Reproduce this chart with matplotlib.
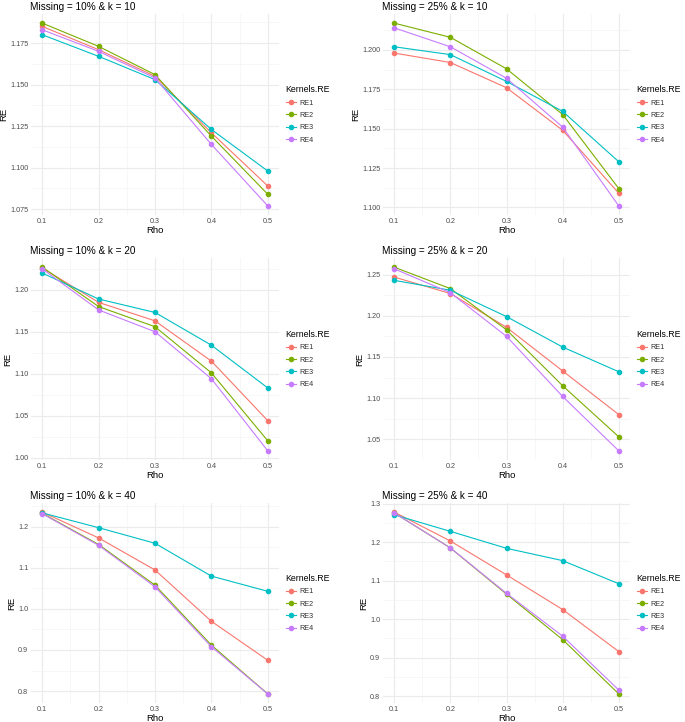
import matplotlib
matplotlib.use("Agg")
import matplotlib.pyplot as plt
import numpy as np
from matplotlib.ticker import MultipleLocator, FormatStrFormatter

plt.rcParams['font.family'] = ['Liberation Sans', 'DejaVu Sans']

rho = [0.1, 0.2, 0.3, 0.4, 0.5]
kernels = ["RE1", "RE2", "RE3", "RE4"]
colors = ["#F8766D", "#7CAE00", "#00BFC4", "#C77CFF"]

# Missing = 10% & k = 10
m10_k10 = [
    [1.185, 1.171, 1.155, 1.121, 1.089],
    [1.187, 1.173, 1.156, 1.119, 1.084],
    [1.180, 1.167, 1.153, 1.123, 1.098],
    [1.183, 1.170, 1.154, 1.114, 1.077],
]
# Missing = 25% & k = 10
m25_k10 = [
    [1.198, 1.192, 1.176, 1.149, 1.109],
    [1.217, 1.208, 1.188, 1.159, 1.112],
    [1.202, 1.197, 1.180, 1.161, 1.129],
    [1.214, 1.202, 1.182, 1.151, 1.101],
]
# Missing = 10% & k = 20
m10_k20 = [
    [1.226, 1.185, 1.163, 1.115, 1.044],
    [1.227, 1.180, 1.156, 1.101, 1.020],
    [1.220, 1.189, 1.173, 1.134, 1.083],
    [1.225, 1.176, 1.150, 1.094, 1.008],
]
# Missing = 25% & k = 20
m25_k20 = [
    [1.247, 1.227, 1.186, 1.133, 1.080],
    [1.259, 1.233, 1.183, 1.115, 1.053],
    [1.243, 1.231, 1.199, 1.162, 1.132],
    [1.257, 1.228, 1.175, 1.102, 1.036],
]
# Missing = 10% & k = 40
m10_k40 = [
    [1.236, 1.173, 1.095, 0.970, 0.875],
    [1.233, 1.157, 1.058, 0.912, 0.793],
    [1.234, 1.198, 1.160, 1.080, 1.043],
    [1.232, 1.155, 1.054, 0.908, 0.793],
]
# Missing = 25% & k = 40
m25_k40 = [
    [1.278, 1.203, 1.115, 1.025, 0.916],
    [1.276, 1.185, 1.065, 0.947, 0.806],
    [1.271, 1.228, 1.184, 1.152, 1.092],
    [1.276, 1.185, 1.067, 0.956, 0.816],
]

titles = ["Missing = 10% & k = 10", "Missing = 25% & k = 10",
          "Missing = 10% & k = 20", "Missing = 25% & k = 20",
          "Missing = 10% & k = 40", "Missing = 25% & k = 40"]
panels = [m10_k10, m25_k10, m10_k20, m25_k20, m10_k40, m25_k40]
ysteps = [0.025, 0.025, 0.05, 0.05, 0.1, 0.1]
yfmt = ["%.3f", "%.3f", "%.2f", "%.2f", "%.1f", "%.1f"]

W, H = 685, 722
fig = plt.figure(figsize=(W / 100, H / 100), dpi=100)

cols = [(31, 279), (383, 630)]
rows = [(14, 215), (258, 460), (503, 703)]

for i, (data, title) in enumerate(zip(panels, titles)):
    x0, x1 = cols[i % 2]
    y0, y1 = rows[i // 2]
    ax = fig.add_axes([x0 / W, 1 - y1 / H, (x1 - x0) / W, (y1 - y0) / H])
    for vals, name, c in zip(data, kernels, colors):
        ax.plot(rho, vals, color=c, lw=0.8, marker="o", ms=3.0, label=name)
    ax.margins(x=0.05, y=0.05)
    step = ysteps[i]
    ax.xaxis.set_major_locator(MultipleLocator(0.1))
    ax.xaxis.set_minor_locator(MultipleLocator(0.05))
    ax.yaxis.set_major_locator(MultipleLocator(step))
    ax.yaxis.set_minor_locator(MultipleLocator(step / 2))
    ax.xaxis.set_major_formatter(FormatStrFormatter("%.1f"))
    ax.yaxis.set_major_formatter(FormatStrFormatter(yfmt[i]))
    ax.grid(which="major", color="#EBEBEB", lw=0.8)
    ax.grid(which="minor", color="#F4F4F4", lw=0.5)
    ax.set_axisbelow(True)
    for s in ax.spines.values():
        s.set_visible(False)
    ax.tick_params(which="both", length=0, labelsize=5.2, labelcolor="#4D4D4D", pad=2)
    ax.set_xlabel("Rho", fontsize=6.8, labelpad=1)
    ax.set_ylabel("RE", fontsize=6.8, labelpad=1)
    ax.set_title(title, fontsize=7.2, loc="left", x=-0.005, pad=3)
    leg = ax.legend(title="Kernels.RE", loc="center left", bbox_to_anchor=(1.0, 0.5),
                    frameon=False, fontsize=5.2, title_fontsize=6.3,
                    handlelength=1.4, handletextpad=0.5, labelspacing=0.75)
    leg._legend_box.align = "left"
    for t in leg.get_texts():
        t.set_color("#333333")

fig.savefig("out.png", dpi=100)
